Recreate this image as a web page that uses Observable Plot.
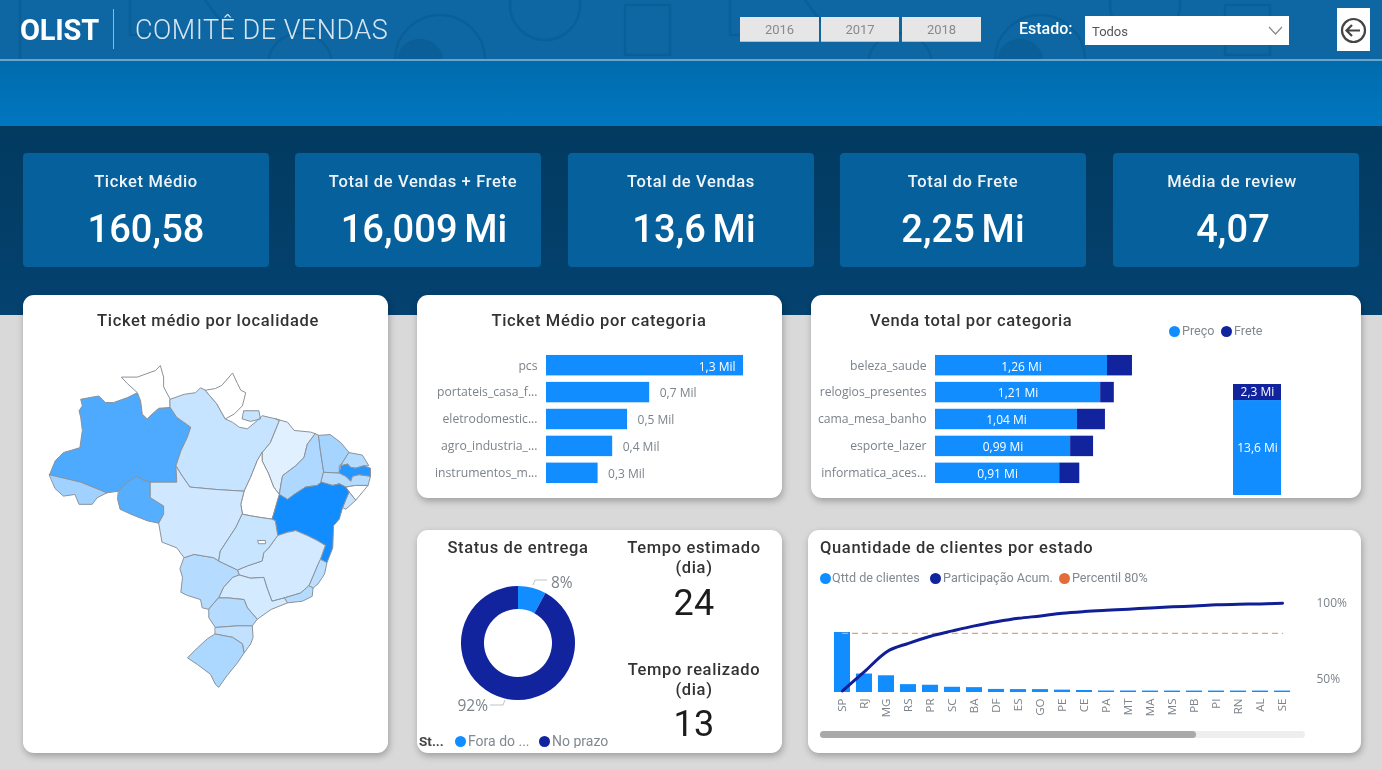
<!DOCTYPE html>
<html lang="pt-BR">
<head>
<meta charset="utf-8">
<title>OLIST - Comitê de Vendas</title>
<script src="https://cdn.jsdelivr.net/npm/d3@7"></script>
<script src="https://cdn.jsdelivr.net/npm/@observablehq/plot@0.6"></script>
<style>
html,body{margin:0;padding:0;background:#d9d9d9;overflow:hidden}
#root{position:relative;width:1382px;height:770px;overflow:hidden;font-family:Roboto,sans-serif;background:#d9d9d9;filter:blur(.35px)}
.abs{position:absolute}
#hdr{left:0;top:0;width:1382px;height:61px;background:#0e67a3;border-bottom:2px solid #6aa3cb;box-sizing:border-box;overflow:hidden}
#band{left:0;top:61px;width:1382px;height:65px;background:linear-gradient(#006bad,#0077c0)}
#dark{left:0;top:126px;width:1382px;height:189px;background:linear-gradient(#023a60,#054270)}
.kpi{top:153px;width:246px;height:114px;background:#06609b;border-radius:4px;color:#fff;text-align:center}
.kpi .t{position:absolute;left:0;right:0;top:19px;font-size:16.5px;font-weight:500;letter-spacing:.65px;color:#eef4f9}
.kpi .v{position:absolute;left:0;right:0;top:54px;font-size:38px;font-weight:500;letter-spacing:.1px;word-spacing:-3px}
.card{background:#fff;border-radius:11px;box-shadow:1px 3px 7px rgba(0,0,0,.28)}
.ttl{font-size:16.5px;font-weight:500;color:#333;letter-spacing:.65px;white-space:nowrap;line-height:20px}
.ctr{transform:translateX(-50%);text-align:center}
.big{font-size:36px;font-weight:400;color:#1c1c1c;letter-spacing:.2px;line-height:44px}
.lg{font-size:12.6px;color:#808890;white-space:nowrap;line-height:14px}
.dot{width:11px;height:11px;border-radius:50%}
.btn{top:17px;height:25px;background:#e6e6e6;border-bottom:1px solid #bbb;color:#8a8a8a;font-size:13px;text-align:center;line-height:26px;box-sizing:border-box}
</style>
</head>
<body>
<div id="root">
  <div id="hdr" class="abs">
    <svg width="1382" height="60" style="position:absolute;left:0;top:0" fill="none" stroke="#0b5f99" stroke-width="2.500">
      <circle cx="440" cy="60" r="45"/><circle cx="420" cy="62" r="22" fill="#0b5f99"/><circle cx="300" cy="65" r="32"/><circle cx="545" cy="5" r="35"/>
      <rect x="625" y="5" width="45" height="50"/><path d="M130 0v35h40M205 0l30 40M20 0v60"/>
      <circle cx="1040" cy="60" r="45"/><circle cx="1020" cy="62" r="22" fill="#0b5f99"/><circle cx="900" cy="65" r="32"/><circle cx="1145" cy="5" r="35"/>
      <rect x="1225" y="5" width="45" height="50"/><path d="M730 0v35h40M805 0l30 40"/>
    </svg>
  </div>
  <div id="band" class="abs"></div>
  <div id="dark" class="abs"></div>

  <div class="abs" style="left:20px;top:13px;font-size:29px;font-weight:700;color:#fff;letter-spacing:-.2px;line-height:34px">OLIST</div>
  <div class="abs" style="left:113px;top:9px;width:1px;height:40px;background:#8fb8d6"></div>
  <div class="abs" style="left:135px;top:13px;font-size:27px;font-weight:300;color:#d6e5f0;line-height:34px;letter-spacing:.5px">COMITÊ DE VENDAS</div>
  <div class="abs btn" style="left:740px;width:79px">2016</div>
  <div class="abs btn" style="left:821px;width:78px">2017</div>
  <div class="abs btn" style="left:902px;width:79px">2018</div>
  <div class="abs" style="left:1019px;top:19px;font-size:16px;font-weight:500;color:#fff;line-height:20px">Estado:</div>
  <div class="abs" style="left:1085px;top:16px;width:204px;height:29px;background:#fff"></div>
  <div class="abs" style="left:1092px;top:24px;font-size:13px;color:#555;line-height:16px">Todos</div>
  <svg class="abs" style="left:1268px;top:26px" width="15" height="10" fill="none" stroke="#888" stroke-width="1.2"><path d="M1 1l6.500 7 6.500-7"/></svg>
  <div class="abs" style="left:1337px;top:8px;width:33px;height:43px;background:#fff"></div>
  <svg class="abs" style="left:1340px;top:17px" width="27" height="27" fill="none" stroke="#444" stroke-width="2.200"><circle cx="13.500" cy="13.500" r="11.500"/><path d="M20 13.500H7M12 8l-5.500 5.500 5.500 5.500"/></svg>

  <div class="abs kpi" style="left:23px"><div class="t">Ticket Médio</div><div class="v">160,58</div></div>
  <div class="abs kpi" style="left:295px"><div class="t" style="left:10px">Total de Vendas + Frete</div><div class="v" style="left:12px">16,009 Mi</div></div>
  <div class="abs kpi" style="left:568px"><div class="t">Total de Vendas</div><div class="v" style="left:6px">13,6 Mi</div></div>
  <div class="abs kpi" style="left:840px"><div class="t">Total do Frete</div><div class="v">2,25 Mi</div></div>
  <div class="abs kpi" style="left:1113px"><div class="t" style="right:8px">Média de review</div><div class="v" style="right:6px">4,07</div></div>

  <div class="abs card" style="left:23px;top:295px;width:365px;height:458px"></div>
  <div class="abs card" style="left:417px;top:295px;width:365px;height:203px"></div>
  <div class="abs card" style="left:811px;top:295px;width:550px;height:203px"></div>
  <div class="abs card" style="left:417px;top:530px;width:365px;height:223px"></div>
  <div class="abs card" style="left:808px;top:530px;width:553px;height:223px"></div>

  <div class="abs ttl ctr" style="left:208px;top:311px">Ticket médio por localidade</div>
  <div class="abs ttl ctr" style="left:599px;top:311px">Ticket Médio por categoria</div>
  <div class="abs ttl" style="left:870px;top:311px">Venda total por categoria</div>
  <div class="abs ttl ctr" style="left:518px;top:538px">Status de entrega</div>
  <div class="abs ttl" style="left:820px;top:538px">Quantidade de clientes por estado</div>

  <div class="abs dot" style="left:1169px;top:326px;background:#118DFF"></div><div class="abs lg" style="left:1182px;top:324px">Preço</div>
  <div class="abs dot" style="left:1221px;top:326px;background:#12239E"></div><div class="abs lg" style="left:1234px;top:324px">Frete</div>

  <div class="abs dot" style="left:820px;top:573px;background:#118DFF"></div><div class="abs lg" style="left:832px;top:571px">Qttd de clientes</div>
  <div class="abs dot" style="left:930px;top:573px;background:#12239E"></div><div class="abs lg" style="left:943px;top:571px">Participação Acum.</div>
  <div class="abs dot" style="left:1059px;top:573px;background:#E66C37"></div><div class="abs lg" style="left:1072px;top:571px">Percentil 80%</div>

  <div class="abs" style="left:820px;top:731px;width:485px;height:7px;border-radius:4px;background:#eeeeee"></div>
  <div class="abs" style="left:820px;top:731px;width:376px;height:7px;border-radius:4px;background:#a9a9a9"></div>

  <div class="abs ttl ctr" style="left:694px;top:538px">Tempo estimado</div>
  <div class="abs ttl ctr" style="left:694px;top:558px">(dia)</div>
  <div class="abs big ctr" style="left:694px;top:581px">24</div>
  <div class="abs ttl ctr" style="left:694px;top:660px">Tempo realizado</div>
  <div class="abs ttl ctr" style="left:694px;top:680px">(dia)</div>
  <div class="abs big ctr" style="left:694px;top:702px">13</div>

  <div class="abs lg" style="left:419px;top:734px;font-weight:700;color:#444;font-size:13.5px">St...</div>
  <div class="abs dot" style="left:455px;top:736px;background:#118DFF"></div><div class="abs lg" style="left:468px;top:734px;font-size:14px">Fora do ...</div>
  <div class="abs dot" style="left:539px;top:736px;background:#12239E"></div><div class="abs lg" style="left:552px;top:734px;width:58px;overflow:hidden;font-size:14px">No prazo</div>
</div>

<script>
// ---------- Ticket médio por categoria ----------
const ticketCategorias = ["pcs", "portateis_casa_f...", "eletrodomestic...", "agro_industria_...", "instrumentos_m..."];
const ticketValores = [1298, 680, 534, 436, 340];
const ticketRotulos = ["1,3 Mil", "0,7 Mil", "0,5 Mil", "0,4 Mil", "0,3 Mil"];

// ---------- Venda total por categoria ----------
const vendaCategorias = ["beleza_saude", "relogios_presentes", "cama_mesa_banho", "esporte_lazer", "informatica_aces..."];
const vendaPreco = [1.26, 1.21, 1.04, 0.99, 0.91];
const vendaFrete = [0.183, 0.10, 0.205, 0.168, 0.147];
const vendaRotulos = ["1,26 Mi", "1,21 Mi", "1,04 Mi", "0,99 Mi", "0,91 Mi"];
const totalSeries = ["Preço", "Frete"];
const totalValores = [13.6, 2.3];
const totalRotulos = ["13,6 Mi", "2,3 Mi"];

// ---------- Status de entrega ----------
const statusNomes = ["Fora do prazo", "No prazo"];
const statusValores = [8, 92];
const statusRotulos = ["8%", "92%"];

// ---------- Quantidade de clientes por estado ----------
const estados = ["SP","RJ","MG","RS","PR","SC","BA","DF","ES","GO","PE","CE","PA","MT","MA","MS","PB","PI","RN","AL","SE"];
const clientes = [41746,12852,11635,5466,5045,3637,3380,2140,2033,2020,1652,1400,1050,1050,1000,1000,1000,1000,1000,1000,1000];
const acumulado = [42,54.800,67.800,73.500,78.200,81.700,85,87.700,90,91.600,93.400,94.500,95.300,96,96.900,97.600,98.200,98.900,99.300,99.500,100];
const percentil = 80;

// ---------- Mapa: contornos [lon, lat] e ticket médio por estado ----------
const AM = [[-73.9,-8.0],[-73.2,-6.3],[-72.2,-5.3],[-70.2,-4.7],[-69.9,-2.6],[-70.1,-1.0],[-70.3,-0.2],[-69.9,0.4],[-70.1,1.2],[-67.9,1.6],[-67.1,0.8],[-66.1,0.8],[-64.4,1.4],[-63.2,2.0],[-62.8,1.0],[-62.6,-0.6],[-62.0,-1.2],[-61.4,-0.6],[-60.6,0.1],[-59.2,0.2],[-58.4,-1.0],[-56.7,-2.2],[-57.1,-3.4],[-57.9,-5.1],[-58.5,-6.9],[-58.4,-8.9],[-61.6,-8.9],[-62.4,-8.7],[-63.3,-8.2],[-64.4,-8.9],[-65.5,-10.0],[-66.9,-10.2],[-70.1,-8.9]];
const AC = [[-73.9,-8.0],[-70.1,-8.9],[-66.9,-10.2],[-68.1,-10.8],[-68.7,-11.6],[-70.3,-11.6],[-70.8,-10.4],[-72.2,-10.6],[-73.2,-9.7]];
const RO = [[-65.5,-10.0],[-64.4,-8.9],[-63.3,-8.2],[-62.4,-8.7],[-61.6,-8.9],[-61.6,-10.8],[-60.0,-11.8],[-60.0,-12.8],[-60.6,-13.9],[-62.0,-13.6],[-64.0,-12.8],[-65.3,-12.2],[-65.6,-11.0]];
const RR = [[-65.1,3.9],[-63.2,3.9],[-61.0,4.7],[-60.4,5.3],[-60.0,3.9],[-60.0,2.7],[-59.2,1.2],[-59.2,0.2],[-60.6,0.1],[-61.4,-0.6],[-62.0,-1.2],[-62.6,-0.6],[-62.8,1.0],[-63.2,2.0],[-64.4,3.1]];
const PA = [[-59.2,1.2],[-57.5,1.8],[-56.1,2.0],[-55.5,2.6],[-54.9,2.3],[-53.5,0.6],[-52.5,-1.2],[-51.6,-1.6],[-50.8,-2.2],[-49.8,-2.4],[-48.6,-1.4],[-48.0,-0.8],[-46.3,-1.2],[-45.9,-1.4],[-47.0,-4.1],[-48.0,-5.3],[-48.6,-6.3],[-49.4,-8.3],[-50.2,-10.0],[-53.5,-9.8],[-56.8,-9.5],[-57.9,-7.9],[-58.5,-6.9],[-57.9,-5.1],[-57.1,-3.4],[-56.7,-2.2],[-58.4,-1.0],[-59.2,0.2]];
const PA_Marajo = [[-50.2,-0.2],[-48.4,-0.2],[-48.2,-1.2],[-49.4,-1.5],[-50.4,-1.2]];
const AP = [[-54.9,2.3],[-53.7,2.5],[-52.9,2.9],[-51.6,4.4],[-51.0,3.1],[-50.6,2.3],[-50.0,2.0],[-50.4,0.4],[-51.4,-0.6],[-52.5,-1.2],[-53.5,0.6]];
const MA = [[-46.3,-1.2],[-44.9,-1.6],[-44.1,-2.6],[-42.1,-2.8],[-41.5,-3.0],[-42.5,-4.3],[-42.9,-5.9],[-43.9,-6.9],[-45.5,-8.1],[-45.7,-9.1],[-45.9,-10.4],[-46.6,-9.5],[-47.2,-7.9],[-48.0,-6.3],[-48.0,-5.3],[-47.0,-4.1],[-45.9,-1.4]];
const TO = [[-48.0,-5.3],[-48.0,-6.3],[-47.2,-7.9],[-46.6,-9.5],[-45.9,-10.4],[-46.2,-11.4],[-46.6,-12.8],[-46.8,-13.4],[-48.2,-13.2],[-49.4,-13.0],[-50.4,-12.8],[-50.6,-11.6],[-50.2,-10.0],[-49.4,-8.3],[-48.6,-6.3]];
const PI = [[-41.5,-3.0],[-41.1,-3.2],[-40.9,-5.1],[-40.5,-7.7],[-40.8,-8.9],[-41.3,-9.3],[-42.7,-9.5],[-44.1,-10.4],[-44.9,-11.0],[-45.9,-10.4],[-45.7,-9.1],[-45.5,-8.1],[-43.9,-6.9],[-42.9,-5.9],[-42.5,-4.3]];
const CE = [[-41.1,-3.2],[-39.7,-3.1],[-38.4,-4.1],[-37.4,-5.3],[-38.2,-6.5],[-38.6,-6.9],[-38.6,-7.8],[-40.5,-7.7],[-40.9,-5.1]];
const RN = [[-37.4,-5.3],[-35.8,-5.6],[-35.0,-6.9],[-35.6,-6.9],[-36.6,-7.2],[-37.2,-7.1],[-37.6,-6.7],[-38.4,-6.9],[-38.2,-6.5]];
const PB = [[-38.4,-6.9],[-37.6,-6.7],[-37.2,-7.1],[-36.6,-7.2],[-35.6,-6.9],[-34.8,-7.2],[-34.8,-8.2],[-36.2,-8.0],[-37.0,-8.2],[-37.2,-8.8],[-37.8,-8.2],[-38.6,-7.8]];
const PE = [[-40.5,-7.7],[-38.6,-7.8],[-37.8,-8.2],[-37.2,-8.8],[-37.0,-8.2],[-36.2,-8.0],[-34.8,-8.2],[-35.1,-9.3],[-36.6,-9.3],[-37.8,-9.5],[-38.6,-9.1],[-39.4,-9.3],[-40.8,-8.9]];
const AL = [[-37.8,-9.5],[-36.6,-9.3],[-35.1,-9.3],[-36.6,-11.1],[-37.4,-10.1]];
const SE = [[-37.4,-10.1],[-36.6,-11.1],[-37.8,-12.2],[-38.2,-12.0],[-37.8,-11.0]];
const BA = [[-46.2,-11.4],[-45.9,-10.4],[-44.9,-11.0],[-44.1,-10.4],[-42.7,-9.5],[-41.3,-9.3],[-40.8,-8.9],[-39.4,-9.3],[-38.6,-9.1],[-37.8,-9.5],[-37.4,-10.1],[-37.8,-11.0],[-38.2,-12.0],[-38.6,-13.4],[-39.3,-14.2],[-39.4,-16.9],[-40.1,-18.7],[-40.9,-18.3],[-40.3,-16.6],[-41.3,-16.0],[-42.5,-15.4],[-43.9,-14.8],[-44.9,-15.0],[-46.1,-15.4],[-46.4,-13.6],[-46.8,-13.4],[-46.6,-12.8]];
const ES = [[-40.9,-18.3],[-40.1,-18.7],[-40.4,-20.1],[-41.2,-21.3],[-41.8,-21.8],[-42.3,-21.5],[-41.7,-20.1],[-41.2,-18.9]];
const MG = [[-46.1,-15.4],[-44.9,-15.0],[-43.9,-14.8],[-42.5,-15.4],[-41.3,-16.0],[-40.3,-16.6],[-40.9,-18.3],[-41.2,-18.9],[-41.7,-20.1],[-42.3,-21.5],[-43.3,-22.4],[-45.3,-23.0],[-46.8,-23.4],[-47.4,-21.8],[-47.8,-20.5],[-49.4,-20.6],[-50.8,-20.2],[-51.0,-19.6],[-49.8,-19.1],[-48.0,-18.5],[-47.8,-17.5],[-47.2,-16.9]];
const RJ = [[-45.3,-23.0],[-43.3,-22.4],[-42.3,-21.5],[-41.8,-21.8],[-41.9,-22.8],[-43.1,-23.4],[-44.9,-23.6]];
const SP = [[-50.8,-20.2],[-49.4,-20.6],[-47.8,-20.5],[-47.4,-21.8],[-46.8,-23.4],[-45.3,-23.0],[-44.9,-23.6],[-46.9,-24.4],[-48.6,-25.6],[-49.8,-24.2],[-50.2,-23.2],[-52.1,-23.0],[-53.3,-23.0],[-52.7,-21.7],[-51.6,-20.5]];
const MS = [[-57.5,-18.1],[-56.3,-17.7],[-53.9,-18.1],[-53.3,-18.5],[-51.0,-19.6],[-50.8,-20.2],[-51.6,-20.5],[-52.7,-21.7],[-53.3,-23.0],[-54.5,-24.4],[-55.3,-24.2],[-55.5,-23.2],[-57.1,-22.7],[-57.9,-22.3],[-57.7,-20.5],[-58.0,-19.5]];
const MT = [[-61.6,-8.9],[-58.4,-8.9],[-58.5,-6.9],[-57.9,-7.9],[-56.8,-9.5],[-53.5,-9.8],[-50.2,-10.0],[-50.6,-11.6],[-50.4,-12.8],[-51.2,-14.4],[-53.1,-17.3],[-53.3,-18.5],[-53.9,-18.1],[-56.3,-17.7],[-57.5,-18.1],[-58.4,-16.9],[-60.2,-16.2],[-60.6,-13.9],[-60.0,-12.8],[-60.0,-11.8],[-61.6,-10.8]];
const GO = [[-50.4,-12.8],[-49.4,-13.0],[-48.2,-13.2],[-46.8,-13.4],[-46.4,-13.6],[-46.1,-15.4],[-47.2,-16.9],[-47.8,-17.5],[-48.0,-18.5],[-49.8,-19.1],[-51.0,-19.6],[-53.3,-18.5],[-53.1,-17.3],[-51.2,-14.4]];
const DF = [[-48.5,-16.0],[-47.6,-16.0],[-47.6,-16.4],[-48.4,-16.4]];
const PR = [[-53.3,-23.0],[-52.1,-23.0],[-50.2,-23.2],[-49.8,-24.2],[-48.6,-25.6],[-49.2,-26.4],[-51.0,-26.4],[-53.7,-26.6],[-54.5,-25.4],[-54.5,-24.4]];
const SC = [[-53.7,-26.6],[-51.0,-26.4],[-49.2,-26.4],[-49.1,-27.8],[-49.4,-28.6],[-50.2,-29.7],[-50.4,-28.6],[-51.6,-27.8],[-53.7,-27.4]];
const RS = [[-53.7,-27.4],[-51.6,-27.8],[-50.4,-28.6],[-50.2,-29.7],[-51.0,-30.9],[-52.3,-32.5],[-53.3,-33.9],[-53.7,-33.5],[-54.3,-32.3],[-55.9,-31.1],[-57.1,-30.3],[-55.9,-29.1],[-54.7,-28.0]];

const mapaEstados = [
  ["AM",[AM],187.5],["AC",[AC],170],["RO",[RO],185.5],["RR",[RR],150],["PA",[PA,PA_Marajo],162],["AP",[AP],150],
  ["MA",[MA],156.5],["TO",[TO],150],["PI",[PI],167],["CE",[CE],169],["RN",[RN],165.5],["PB",[PB],196],
  ["PE",[PE],165.5],["AL",[AL],150],["SE",[SE],162],["BA",[BA],200],["ES",[ES],164],["MG",[MG],159.5],
  ["RJ",[RJ],165.5],["SP",[SP],159],["MS",[MS],165.5],["MT",[MT],160],["GO",[GO],161.5],["DF",[DF],150],
  ["PR",[PR],165.5],["SC",[SC],163],["RS",[RS],167.5]
];
const escalaTicket = [150, 200];

// ---------- estilos partilhados ----------
const AZUL = "#118DFF", MARINHO = "#12239E", LARANJA = "#E66C37", CINZA = "#7c838a";
const root = document.getElementById("root");
function place(svg, left, top) {
  svg.style.position = "absolute";
  svg.style.left = left + "px";
  svg.style.top = top + "px";
  root.appendChild(svg);
}
const estilo = {background: "transparent", overflow: "visible", fontFamily: "'Open Sans',sans-serif", fontSize: "12.2px"};

// ---------- mapa ----------
function anel(pontos) {
  const r = [...pontos, pontos[0]];
  return d3.geoArea({type: "Polygon", coordinates: [r]}) > 2 * Math.PI ? r.reverse() : r;
}
const mapaGeo = {type: "FeatureCollection", features: mapaEstados.map(([uf, partes, ticket]) => ({
  type: "Feature", properties: {uf, ticket},
  geometry: {type: "MultiPolygon", coordinates: partes.map(p => [anel(p)])}
}))};
place(Plot.plot({
  width: 321, height: 322, margin: 0, style: estilo,
  projection: {type: "equirectangular", domain: mapaGeo},
  color: {type: "linear", domain: escalaTicket, range: ["#ffffff", AZUL]},
  marks: [Plot.geo(mapaGeo, {fill: d => d.properties.ticket, stroke: "#8b929a", strokeWidth: 1, strokeLinejoin: "round"})]
}), 49, 365);

// ---------- Ticket médio por categoria ----------
const ticketDados = ticketCategorias.map((c, i) => ({c, v: ticketValores[i], r: ticketRotulos[i]}));
place(Plot.plot({
  width: 365, height: 203, marginLeft: 129, marginRight: 39, marginTop: 53.500, marginBottom: 8.500, style: estilo,
  x: {domain: [0, 1298], axis: null},
  y: {domain: ticketCategorias, padding: 0.24, round: false, label: null},
  marks: [
    Plot.barX(ticketDados, {y: "c", x: "v", fill: AZUL}),
    Plot.axisY({tickSize: 0, tickPadding: 9, color: CINZA, label: null}),
    Plot.text(ticketDados.filter(d => d.v >= 1000), {y: "c", x: "v", text: "r", textAnchor: "end", dx: -8, dy: 1, fill: "#fff", fontSize: 12}),
    Plot.text(ticketDados.filter(d => d.v < 1000), {y: "c", x: "v", text: "r", textAnchor: "start", dx: 10, dy: 1, fill: CINZA, fontSize: 12})
  ]
}), 417, 295);

// ---------- Venda total por categoria ----------
const vendaDados = vendaCategorias.flatMap((c, i) => [
  {c, serie: "Preço", v: vendaPreco[i]},
  {c, serie: "Frete", v: vendaFrete[i]}
]);
const vendaTextos = vendaCategorias.map((c, i) => ({c, v: vendaPreco[i] / 2, r: vendaRotulos[i]}));
place(Plot.plot({
  width: 550, height: 203, marginLeft: 124, marginRight: 234, marginTop: 53.500, marginBottom: 8.500, style: estilo,
  x: {domain: [0, 1.4066], axis: null},
  y: {domain: vendaCategorias, padding: 0.24, round: false, label: null},
  color: {domain: totalSeries, range: [AZUL, MARINHO]},
  marks: [
    Plot.barX(vendaDados, {y: "c", x: "v", fill: "serie", order: totalSeries}),
    Plot.axisY({tickSize: 0, tickPadding: 9, color: CINZA, label: null}),
    Plot.text(vendaTextos, {y: "c", x: "v", text: "r", dy: 1, fill: "#fff", fontSize: 12})
  ]
}), 811, 295);

// ---------- Coluna empilhada total ----------
const totalDados = totalSeries.map((s, i) => ({g: "Total", serie: s, v: totalValores[i], r: totalRotulos[i]}));
place(Plot.plot({
  width: 48, height: 111, margin: 0, style: estilo,
  x: {domain: ["Total"], padding: 0, round: false, axis: null},
  y: {domain: [0, 15.900], axis: null},
  color: {domain: totalSeries, range: [AZUL, MARINHO]},
  marks: [
    Plot.barY(totalDados, {x: "g", y: "v", fill: "serie", order: totalSeries}),
    Plot.text(totalDados, Plot.stackY({x: "g", y: "v", z: "serie", order: totalSeries, text: "r", fill: "#fff", fontSize: 12}))
  ]
}), 1233, 384);

// ---------- Rosca de status ----------
function rosca(index, scales, values, dimensions) {
  const cx = dimensions.width / 2, cy = dimensions.height / 2;
  const fatias = d3.pie().sort(null).value(d => d)(statusValores);
  const arco = d3.arc().innerRadius(34).outerRadius(57);
  const cores = [AZUL, MARINHO];
  const g = d3.create("svg:g").attr("transform", `translate(${cx},${cy})`);
  g.selectAll("path").data(fatias).join("path").attr("d", arco).attr("fill", (d, i) => cores[i]);
  const lider = [[[15, -58], [17, -63], [29, -63]], [[-13, 57], [-15, 62], [-28, 62]]];
  g.selectAll("polyline").data(lider).join("polyline")
    .attr("points", d => d.join(" ")).attr("fill", "none").attr("stroke", "#c2c2c2");
  g.selectAll("text").data(statusRotulos).join("text")
    .attr("x", (d, i) => i ? -30 : 33).attr("y", (d, i) => i ? 63 : -60)
    .attr("text-anchor", (d, i) => i ? "end" : "start").attr("dy", "0.32em")
    .attr("fill", CINZA).attr("font-size", 15.500).text(d => d);
  return g.node();
}
place(Plot.plot({width: 140, height: 160, margin: 0, style: estilo, marks: [rosca]}), 448, 563);

// ---------- Pareto ----------
const paretoDados = estados.map((e, i) => ({e, q: clientes[i], a: acumulado[i], p: percentil}));
const eixoX = {type: "band", domain: estados, range: [0, 468], padding: 0.27, round: false};
place(Plot.plot({
  width: 540, height: 140, marginLeft: 0, marginRight: 72, marginTop: 2.700, marginBottom: 48, style: estilo,
  x: {...eixoX, label: null},
  y: {domain: [0, 41746], range: [92, 32], axis: null},
  marks: [
    Plot.barY(paretoDados, {x: "e", y: "q", fill: AZUL}),
    Plot.axisX({tickSize: 0, tickPadding: 6, tickRotate: -90, color: CINZA, label: null, fontSize: 11.500})
  ]
}), 828, 600);
place(Plot.plot({
  width: 540, height: 140, marginLeft: 0, marginRight: 72, marginTop: 2.700, marginBottom: 48, style: estilo,
  x: {...eixoX, axis: null},
  y: {domain: [41, 100], range: [92, 2.700], axis: null},
  marks: [
    Plot.line(paretoDados, {x: "e", y: "p", stroke: "#F09A78", strokeWidth: 1.300, strokeDasharray: "5 5"}),
    Plot.line(paretoDados, {x: "e", y: "a", stroke: "#101f96", strokeWidth: 3, curve: "monotone-x"}),
    Plot.axisY({anchor: "right", ticks: [50, 100], tickFormat: d => d + "%", tickSize: 0, tickPadding: 20, color: CINZA, label: null, fontSize: 12})
  ]
}), 828, 600);
</script>
</body>
</html>
